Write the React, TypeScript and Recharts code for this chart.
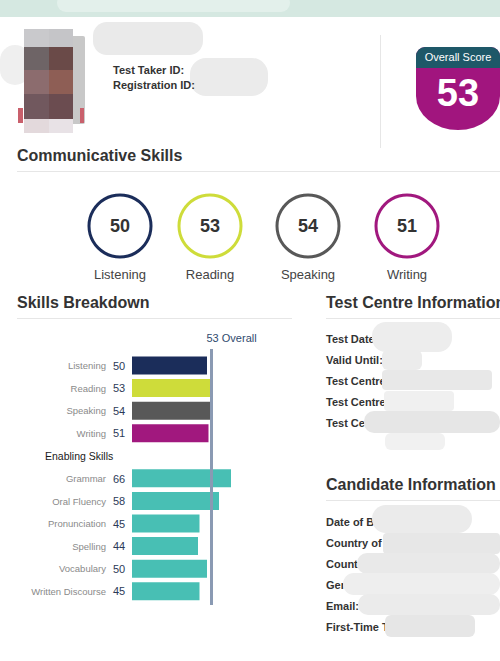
import React from 'react'
import {
  BarChart,
  Bar,
  XAxis,
  YAxis,
  Cell,
  ReferenceLine,
  PieChart,
  Pie,
} from 'recharts'

// scores
const skillNames = ['Listening', 'Reading', 'Speaking', 'Writing']
const skillScores = [50, 53, 54, 51]
const skillColors = ['#1b2d5a', '#cedc3a', '#585858', '#a1187e']
const enablingTitle = 'Enabling Skills'
const enablingNames = [
  'Grammar',
  'Oral Fluency',
  'Pronunciation',
  'Spelling',
  'Vocabulary',
  'Written Discourse',
]
const enablingScores = [66, 58, 45, 44, 50, 45]
const enablingColor = '#48bfb4'
const overallScore = 53
const testCentreLabels = [
  'Test Date:',
  'Valid Until:',
  'Test Centre Country:',
  'Test Centre ID:',
  'Test Centre:',
]
const candidateLabels = [
  'Date of Birth:',
  'Country of Citizenship:',
  'Country of Residence:',
  'Gender:',
  'Email:',
  'First-Time Test Taker:',
]

type Row = { name: string; score: number | null; color: string; header?: boolean }

const rows: Row[] = [
  ...skillNames.map((n, i) => ({ name: n, score: skillScores[i], color: skillColors[i] })),
  { name: enablingTitle, score: null, color: 'none', header: true },
  ...enablingNames.map((n, i) => ({ name: n, score: enablingScores[i], color: enablingColor })),
]

const FONT = '"Liberation Sans", Arial, Helvetica, sans-serif'
const circleX = [115, 205, 303, 402]

const SkillTick = (props: any) => {
  const { x, y, payload } = props
  const row = rows.find((r) => r.name === payload.value)
  if (!row) return null
  if (row.header) {
    return (
      <text x={x - 87} y={y} dy="0.35em" fontSize={10.5} fill="#1a1a1a" fontFamily={FONT}>
        {row.name}
      </text>
    )
  }
  return (
    <g fontFamily={FONT}>
      <text x={x - 26} y={y} dy="0.35em" textAnchor="end" fontSize={9.5} fill="#8a8a8a">
        {row.name}
      </text>
      <text x={x - 19} y={y} dy="0.35em" fontSize={11} fill="#2b3a57">
        {row.score}
      </text>
    </g>
  )
}

const overallLabel = (p: any) => {
  const vb = p.viewBox || {}
  return (
    <text x={vb.x - 5} y={vb.y - 7} fontSize={11} fill="#2f4a6e" fontFamily={FONT}>
      {overallScore} Overall
    </text>
  )
}

const abs = (s: React.CSSProperties): React.CSSProperties => ({ position: 'absolute', ...s })

const Heading = ({ x, y, text }: { x: number; y: number; text: string }) => (
  <div
    style={abs({
      left: x,
      top: y - 8,
      fontSize: 16,
      lineHeight: '16px',
      fontWeight: 'bold',
      color: '#333',
      whiteSpace: 'nowrap',
    })}
  >
    {text}
  </div>
)

const Rule = ({ x, y, w }: { x: number; y: number; w: number }) => (
  <div style={abs({ left: x, top: y, width: w, height: 1, background: '#e6e6e6' })} />
)

const InfoRow = ({ y, text }: { y: number; text: string }) => (
  <div
    style={abs({
      left: 326,
      top: y - 6,
      fontSize: 11,
      lineHeight: '12px',
      fontWeight: 'bold',
      color: '#333',
      whiteSpace: 'nowrap',
    })}
  >
    {text}
  </div>
)

// pixelated photo
const photoCells = [
  ['#c9c9cc', '#c5c5c8'],
  ['#6e6466', '#6a4a48'],
  ['#8c6c6e', '#8e5e55'],
  ['#71585e', '#6b4c50'],
  ['#e3d9dc', '#e8e2e6'],
]
const photoRowTops = [29, 47, 70, 94, 119, 133]

const Blob = ({ x, y, w, h, c = '#ebebeb', r = 8 }: any) => (
  <div style={abs({ left: x, top: y, width: w, height: h, background: c, borderRadius: r })} />
)

export default function App() {
  return (
    <div
      style={abs({
        left: 0,
        top: 0,
        width: 500,
        height: 661,
        overflow: 'hidden',
        background: '#fff',
        fontFamily: FONT,
      })}
    >
      {/* top band */}
      <div style={abs({ left: 0, top: 0, width: 500, height: 17, background: '#d5e8e1' })} />
      <div
        style={abs({ left: 57, top: -6, width: 233, height: 18, background: '#e3f0eb', borderRadius: 9 })}
      />

      {/* photo */}
      <Blob x={0} y={45} w={30} h={40} c="#efefef" r={15} />
      <Blob x={70} y={36} w={15} h={88} c="#c8c8c8" r={2} />
      <div style={abs({ left: 18, top: 108, width: 5, height: 15, background: '#c9606c' })} />
      <div style={abs({ left: 80, top: 108, width: 4, height: 15, background: '#c9606c' })} />
      {photoCells.map((row, ri) =>
        row.map((c, ci) => (
          <div
            key={ri + '-' + ci}
            style={abs({
              left: 24 + ci * 24.5,
              top: photoRowTops[ri],
              width: 24.5,
              height: photoRowTops[ri + 1] - photoRowTops[ri],
              background: c,
            })}
          />
        ))
      )}

      {/* header blobs */}
      <Blob x={93} y={22} w={110} h={33} c="#eaeaea" r={14} />
      <Blob x={190} y={58} w={78} h={38} c="#ebebeb" r={16} />

      <div style={abs({ left: 113, top: 64, fontSize: 11, lineHeight: '12px', fontWeight: 'bold', color: '#333' })}>
        Test Taker ID:
      </div>
      <div style={abs({ left: 113, top: 79, fontSize: 11, lineHeight: '12px', fontWeight: 'bold', color: '#333' })}>
        Registration ID:
      </div>

      <div style={abs({ left: 380, top: 35, width: 1, height: 113, background: '#e6e6e6' })} />

      {/* overall badge */}
      <div
        style={abs({
          left: 416,
          top: 47,
          width: 84,
          height: 83,
          background: '#a1157e',
          borderRadius: '9px 9px 42px 42px / 9px 9px 34px 34px',
          overflow: 'hidden',
        })}
      >
        <div
          style={{
            height: 21,
            background: '#1e5868',
            color: '#fff',
            fontSize: 11,
            lineHeight: '21px',
            textAlign: 'center',
          }}
        >
          Overall Score
        </div>
        <div
          style={{
            color: '#fff',
            fontSize: 38,
            fontWeight: 'bold',
            textAlign: 'center',
            lineHeight: '38px',
            marginTop: 6,
          }}
        >
          {overallScore}
        </div>
      </div>

      <Heading x={17} y={156} text="Communicative Skills" />
      <Rule x={17} y={171} w={483} />

      {/* score rings */}
      <div style={abs({ left: 0, top: 180 })}>
        <PieChart width={500} height={110}>
          {skillNames.map((n, i) => (
            <Pie
              key={n}
              data={[{ name: n, value: skillScores[i] }]}
              dataKey="value"
              cx={circleX[i]}
              cy={41}
              innerRadius={29.5}
              outerRadius={32.5}
              startAngle={90}
              endAngle={-270}
              stroke="none"
              fill={skillColors[i]}
              isAnimationActive={false}
              labelLine={false}
              label={(p: any) => (
                <g fontFamily={FONT}>
                  <text x={p.cx} y={p.cy} dy="0.35em" textAnchor="middle" fontSize={18} fontWeight="bold" fill="#333">
                    {skillScores[i]}
                  </text>
                  <text x={p.cx} y={p.cy + 48} dy="0.35em" textAnchor="middle" fontSize={13} fill="#444">
                    {n}
                  </text>
                </g>
              )}
            />
          ))}
        </PieChart>
      </div>

      <Heading x={17} y={303} text="Skills Breakdown" />
      <Rule x={17} y={318} w={275} />

      <div style={abs({ left: 0, top: 330 })}>
        <BarChart
          width={300}
          height={290}
          data={rows}
          layout="vertical"
          margin={{ top: 19, right: 33, bottom: 15, left: 0 }}
        >
          <XAxis type="number" domain={[0, 90]} hide />
          <YAxis
            type="category"
            dataKey="name"
            width={132}
            tickSize={0}
            tickMargin={0}
            axisLine={false}
            tickLine={false}
            interval={0}
            tick={<SkillTick />}
            padding={{ top: 5.5, bottom: 2.2 }}
          />
          <Bar dataKey="score" barSize={18} isAnimationActive={false}>
            {rows.map((r) => (
              <Cell key={r.name} fill={r.color} />
            ))}
          </Bar>
          <ReferenceLine x={overallScore} stroke="#8a9ab3" strokeWidth={3} label={overallLabel} />
        </BarChart>
      </div>

      <Heading x={326} y={303} text="Test Centre Information" />
      <Rule x={326} y={318} w={174} />
      {testCentreLabels.map((t, i) => (
        <InfoRow key={t} y={339 + i * 21} text={t} />
      ))}

      <Heading x={326} y={485} text="Candidate Information" />
      <Rule x={326} y={500} w={174} />
      {candidateLabels.map((t, i) => (
        <InfoRow key={t} y={522 + i * 21} text={t} />
      ))}

      {/* redaction blobs */}
      <Blob x={372} y={322} w={80} h={30} c="#ededed" r={14} />
      <Blob x={382} y={350} w={40} h={20} c="#ececec" r={6} />
      <Blob x={382} y={370} w={110} h={20} c="#e8e8e8" r={4} />
      <Blob x={384} y={391} w={70} h={20} c="#f0f0f0" r={4} />
      <Blob x={364} y={411} w={136} h={22} c="#e6e6e6" r={10} />
      <Blob x={385} y={433} w={60} h={17} c="#f1f1f1" r={6} />
      <Blob x={372} y={505} w={100} h={28} c="#ebebeb" r={14} />
      <Blob x={383} y={533} w={117} h={21} c="#e7e7e7" r={4} />
      <Blob x={357} y={553} w={143} h={21} c="#e9e9e9" r={10} />
      <Blob x={343} y={573} w={157} h={22} c="#eeeeee" r={14} />
      <Blob x={358} y={594} w={142} h={21} c="#ebebeb" r={10} />
      <Blob x={385} y={615} w={90} h={22} c="#e6e6e6" r={6} />
    </div>
  )
}
